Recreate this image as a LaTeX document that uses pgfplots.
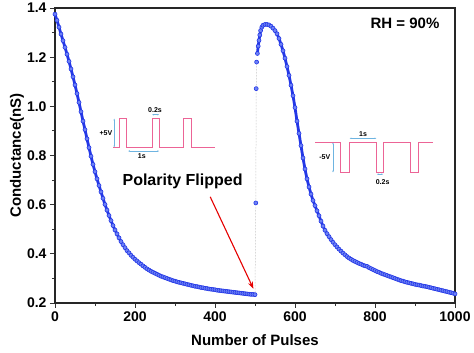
\documentclass[border=0pt]{standalone}
\usepackage{pgfplots}
\pgfplotsset{compat=1.18}
\usepackage{fontspec}
\setmainfont{Liberation Sans}
\usetikzlibrary{arrows.meta}
\definecolor{dotblue}{RGB}{35,55,230}
\definecolor{dotfill}{RGB}{110,130,245}
\definecolor{pulsepink}{RGB}{236,100,150}
\definecolor{arrblue}{RGB}{110,180,225}
\begin{document}
\begin{tikzpicture}
\begin{axis}[
  scale only axis, width=400pt, height=295pt,
  xmin=0, xmax=1000, ymin=0.2, ymax=1.4,
  xtick={0,200,...,1000}, ytick={0.2,0.4,...,1.4},
  minor x tick num=1, minor y tick num=1,
  tick align=outside, tick pos=left,
  major tick length=5pt, minor tick length=3pt,
  axis line style={line width=1.1pt, black!85},
  every tick/.style={line width=0.9pt, black!80},
  /pgf/number format/assume math mode=true,
  /pgf/number format/1000 sep={},
  yticklabel style={/pgf/number format/.cd, fixed, fixed zerofill, precision=1},
  ticklabel style={font=\bfseries\fontsize{14}{14}\selectfont},
  xlabel={Number of Pulses}, ylabel={Conductance(nS)},
  every axis y label/.style={at={(axis description cs:-0.095,0.5)}, rotate=90, anchor=center, font=\bfseries\fontsize{15}{15}\selectfont},
  every axis x label/.style={at={(axis description cs:0.5,-0.125)}, anchor=center, font=\bfseries\fontsize{15}{15}\selectfont},
  clip=false,
]
\coordinate (O) at (rel axis cs:0,0);
\coordinate (T) at (rel axis cs:1,1);
% connector at polarity flip
\addplot[gray!70, densely dotted, line width=0.5pt] coordinates {(500,0.234) (502,0.607) (503,1.072) (504,1.180)};
% first series
\addplot[dotblue, line width=2.8pt, mark=*, mark size=2pt,
  mark options={draw=dotblue, fill=dotfill, line width=0.6pt}] coordinates {
(0,1.375)(5,1.350)(10,1.322)(15,1.294)(20,1.267)(25,1.240)(30,1.212)(35,1.183)
(40,1.152)(45,1.120)(50,1.087)(55,1.052)(60,1.016)(65,0.978)(70,0.940)(75,0.905)
(80,0.868)(85,0.832)(90,0.797)(95,0.764)(100,0.734)(105,0.705)(110,0.678)(115,0.652)
(120,0.626)(125,0.601)(130,0.578)(135,0.556)(140,0.535)(145,0.515)(150,0.497)(155,0.481)
(160,0.465)(165,0.450)(170,0.437)(175,0.425)(180,0.413)(185,0.404)(190,0.394)(195,0.386)
(200,0.378)(205,0.371)(210,0.364)(215,0.358)(220,0.351)(225,0.345)(230,0.339)(235,0.334)
(240,0.329)(245,0.325)(250,0.321)(255,0.317)(260,0.313)(265,0.309)(270,0.306)(275,0.303)
(280,0.300)(285,0.297)(290,0.294)(295,0.291)(300,0.289)(305,0.286)(310,0.284)(315,0.282)
(320,0.280)(325,0.278)(330,0.276)(335,0.274)(340,0.272)(345,0.270)(350,0.268)(355,0.267)
(360,0.265)(365,0.263)(370,0.262)(375,0.260)(380,0.259)(385,0.257)(390,0.256)(395,0.255)
(400,0.254)(405,0.252)(410,0.251)(415,0.250)(420,0.249)(425,0.248)(430,0.247)(435,0.246)
(440,0.245)(445,0.244)(450,0.243)(455,0.242)(460,0.241)(465,0.240)(470,0.239)(475,0.238)
(480,0.237)(485,0.236)(490,0.235)(495,0.235)(500,0.234)
};
% isolated rising points
\addplot[only marks, mark=*, mark size=2pt,
  mark options={draw=dotblue, fill=dotfill, line width=0.6pt}] coordinates {
(502,0.607)(503,1.072)(504,1.180)
};
% second series
\addplot[dotblue, line width=2.8pt, mark=*, mark size=2pt,
  mark options={draw=dotblue, fill=dotfill, line width=0.6pt}] coordinates {
(506,1.215)(508,1.245)(510,1.268)(512,1.290)(514,1.308)(517,1.322)(520,1.330)(525,1.333)
(530,1.333)(535,1.331)(540,1.326)(545,1.318)(550,1.308)(555,1.295)(560,1.276)(565,1.252)
(570,1.226)(575,1.196)(580,1.162)(585,1.126)(590,1.086)(595,1.043)(600,0.995)(605,0.940)
(610,0.890)(615,0.840)(620,0.790)(625,0.745)(630,0.705)(635,0.672)(640,0.643)(645,0.617)
(650,0.596)(655,0.575)(660,0.555)(665,0.533)(670,0.513)(675,0.496)(680,0.482)(685,0.470)
(690,0.458)(695,0.447)(700,0.437)(705,0.428)(710,0.419)(715,0.411)(720,0.403)(725,0.396)
(730,0.389)(735,0.383)(740,0.378)(745,0.373)(750,0.369)(755,0.365)(760,0.361)(765,0.358)
(770,0.354)(775,0.351)(780,0.349)(785,0.344)(790,0.340)(795,0.336)(800,0.332)(805,0.328)
(810,0.325)(815,0.321)(820,0.318)(825,0.315)(830,0.312)(835,0.309)(840,0.306)(845,0.303)
(850,0.300)(855,0.297)(860,0.294)(865,0.291)(870,0.289)(875,0.286)(880,0.284)(885,0.282)
(890,0.280)(895,0.278)(900,0.276)(905,0.274)(910,0.273)(915,0.271)(920,0.269)(925,0.268)
(930,0.266)(935,0.264)(940,0.262)(945,0.260)(950,0.258)(955,0.256)(960,0.254)(965,0.252)
(970,0.250)(975,0.248)(980,0.246)(985,0.244)(990,0.242)(995,0.240)(1000,0.237)
};
% inset 1 (positive pulses)
\draw[pulsepink, line width=0.6pt] (axis cs:145,0.832) -- (axis cs:161,0.832) -- (axis cs:161,0.951) -- (axis cs:179,0.951) -- (axis cs:179,0.832) -- (axis cs:242,0.832) -- (axis cs:242,0.951) -- (axis cs:261,0.951) -- (axis cs:261,0.832) -- (axis cs:321,0.832) -- (axis cs:321,0.951) -- (axis cs:340,0.951) -- (axis cs:340,0.832) -- (axis cs:400,0.832);
\draw[arrblue, line width=0.4pt, {Latex[length=2pt]}-{Latex[length=2pt]}] (axis cs:148,0.832) -- (axis cs:148,0.951);
\draw[arrblue, line width=0.4pt, {Latex[length=2pt]}-{Latex[length=2pt]}] (axis cs:182,0.818) -- (axis cs:261,0.818);
\draw[arrblue, line width=0.4pt, {Latex[length=2pt]}-{Latex[length=2pt]}] (axis cs:242,0.966) -- (axis cs:261,0.966);
\node[anchor=east, inner sep=0.5pt, font=\bfseries\fontsize{7}{7}\selectfont] at (axis cs:145,0.893) {+5V};
\node[inner sep=0pt, font=\bfseries\fontsize{7}{7}\selectfont] at (axis cs:217,0.797) {1s};
\node[inner sep=0pt, font=\bfseries\fontsize{7}{7}\selectfont] at (axis cs:250,0.983) {0.2s};
% inset 2 (negative pulses)
\draw[pulsepink, line width=0.6pt] (axis cs:650,0.854) -- (axis cs:712,0.854) -- (axis cs:712,0.730) -- (axis cs:736,0.730) -- (axis cs:736,0.854) -- (axis cs:804,0.854) -- (axis cs:804,0.730) -- (axis cs:821,0.730) -- (axis cs:821,0.854) -- (axis cs:887,0.854) -- (axis cs:887,0.730) -- (axis cs:908,0.730) -- (axis cs:908,0.854) -- (axis cs:946,0.854);
\draw[arrblue, line width=0.4pt, {Latex[length=2pt]}-{Latex[length=2pt]}] (axis cs:695,0.854) -- (axis cs:695,0.730);
\draw[arrblue, line width=0.4pt, {Latex[length=2pt]}-{Latex[length=2pt]}] (axis cs:736,0.870) -- (axis cs:804,0.870);
\draw[arrblue, line width=0.4pt, {Latex[length=2pt]}-{Latex[length=2pt]}] (axis cs:804,0.724) -- (axis cs:821,0.724);
\node[anchor=east, inner sep=0.5pt, font=\bfseries\fontsize{7}{7}\selectfont] at (axis cs:690,0.793) {-5V};
\node[inner sep=0pt, font=\bfseries\fontsize{7}{7}\selectfont] at (axis cs:770,0.888) {1s};
\node[inner sep=0pt, font=\bfseries\fontsize{7}{7}\selectfont] at (axis cs:819,0.693) {0.2s};
% annotations
\node[font=\bfseries\fontsize{16}{16}\selectfont] at (axis cs:319,0.693) {Polarity Flipped};
\draw[red!90!black, line width=1.1pt, -{Stealth[length=7pt,width=5pt]}] (axis cs:388,0.632) -- (axis cs:496,0.258);
\node[font=\bfseries\fontsize{15}{15}\selectfont] at (axis cs:875,1.339) {RH = 90\%};
\end{axis}
\pgfresetboundingbox
\path ([shift={(-55pt,-50pt)}]O) rectangle ([shift={(19pt,8pt)}]T);
\end{tikzpicture}
\end{document}
